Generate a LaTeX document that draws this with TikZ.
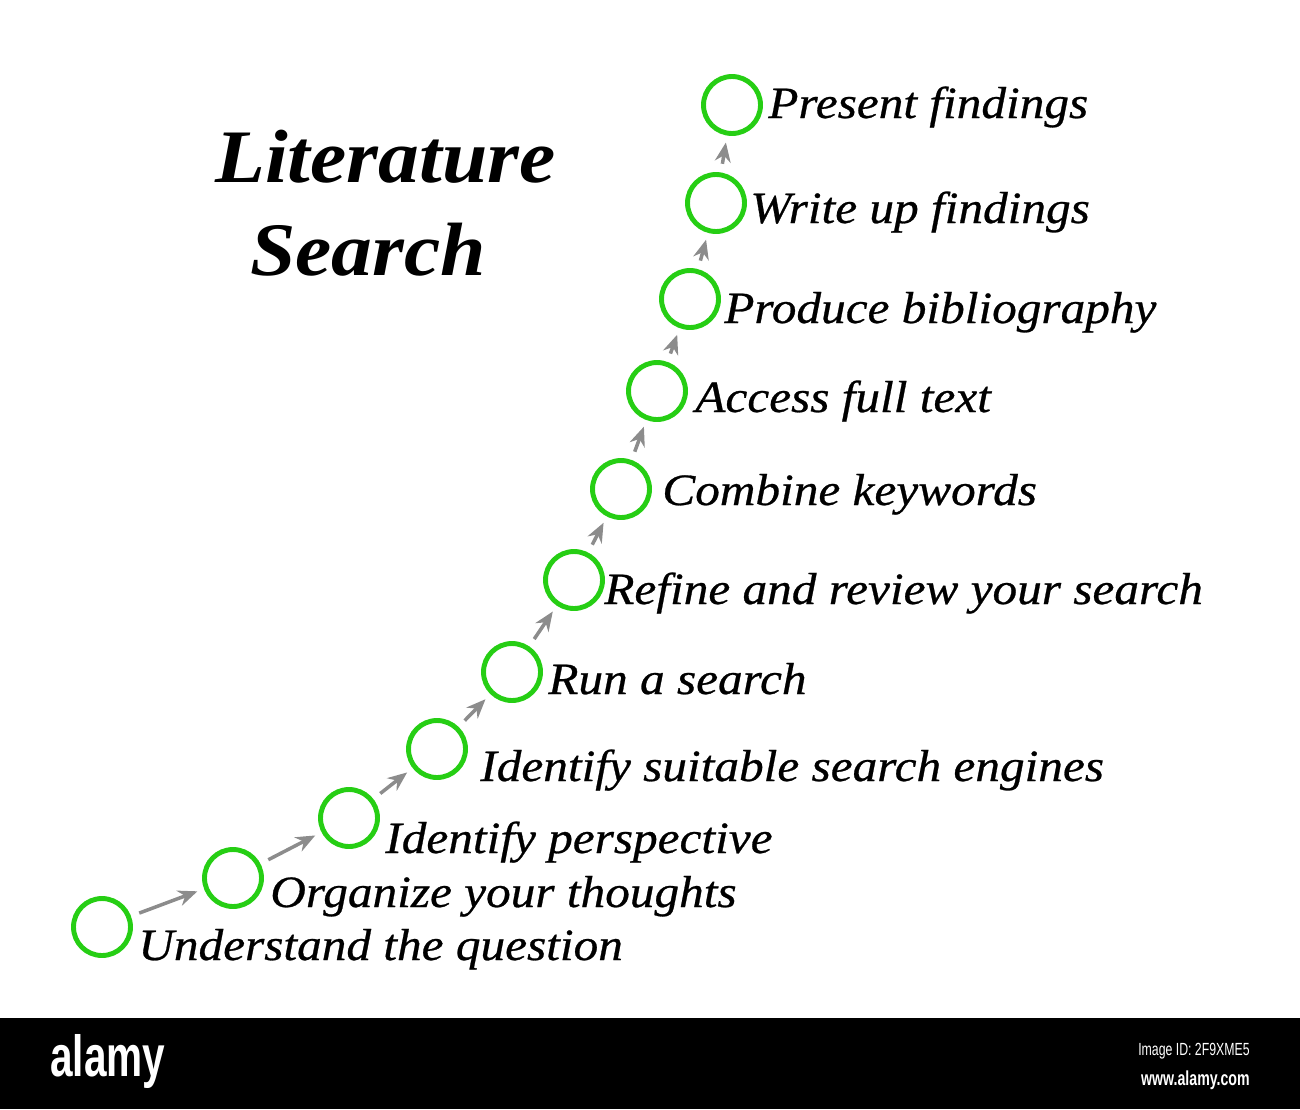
\documentclass[tikz,border=0pt]{standalone}
\usepackage{fontspec}
\setmainfont{Liberation Serif}[FakeStretch=1.08]
\newfontfamily\stepfont{Liberation Serif}[FakeStretch=1.1, FakeBold=0.6]
\newfontfamily\markfont{Liberation Sans}[FakeStretch=0.7]
\usetikzlibrary{arrows.meta}
\definecolor{stepgreen}{RGB}{38,206,20}
\definecolor{stepgray}{RGB}{140,140,140}

\begin{document}
\begin{tikzpicture}[x=0.02cm, y=-0.02cm,
  stepring/.style={circle, draw=stepgreen, line width=2.8pt, minimum size=1.14cm, inner sep=0pt},
  steplabel/.style={anchor=base west, inner sep=0pt, font=\stepfont\fontsize{25.5}{30}\selectfont\itshape},
  steparrow/.style={-{Stealth[length=11pt, width=9pt]}, draw=stepgray, line width=2pt, shorten <=5pt, shorten >=4pt},
  titlefont/.style={anchor=base west, inner sep=0pt, font=\fontsize{43}{48}\selectfont\bfseries\itshape}]
\useasboundingbox (0,0) rectangle (1300,1109);

% title
\node[titlefont] (title1) at (215,182) {Literature};
\node[titlefont] (title2) at (250,275) {Search};

% steps
\node[stepring] (understand) at (102,927) {};
\node[stepring] (organize) at (233,878) {};
\node[stepring] (perspective) at (349,818) {};
\node[stepring] (engines) at (437,749) {};
\node[stepring] (run) at (512,672) {};
\node[stepring] (refine) at (574,580) {};
\node[stepring] (combine) at (621,489) {};
\node[stepring] (access) at (657,391) {};
\node[stepring] (biblio) at (690,299) {};
\node[stepring] (write) at (716,203) {};
\node[stepring] (present) at (732,105) {};

\node[steplabel] (understandtext) at (138,960) {Understand the question};
\node[steplabel] (organizetext) at (270,907) {Organize your thoughts};
\node[steplabel] (perspectivetext) at (385,853) {Identify perspective};
\node[steplabel] (enginestext) at (480,781) {Identify suitable search engines};
\node[steplabel] (runtext) at (548,694) {Run a search};
\node[steplabel] (refinetext) at (604,604) {Refine and review your search};
\node[steplabel] (combinetext) at (662,505) {Combine keywords};
\node[steplabel] (accesstext) at (695,412) {Access full text};
\node[steplabel] (bibliotext) at (724,323) {Produce bibliography};
\node[steplabel] (writetext) at (750,223) {Write up findings};
\node[steplabel] (presenttext) at (768,118) {Present findings};

\draw[steparrow] (understand) -- (organize);
\draw[steparrow] (organize) -- (perspective);
\draw[steparrow] (perspective) -- (engines);
\draw[steparrow] (engines) -- (run);
\draw[steparrow] (run) -- (refine);
\draw[steparrow] (refine) -- (combine);
\draw[steparrow] (combine) -- (access);
\draw[steparrow] (access) -- (biblio);
\draw[steparrow] (biblio) -- (write);
\draw[steparrow] (write) -- (present);

% stock banner
\fill[black] (0,1018) rectangle (1300,1109);
\node[anchor=west, inner sep=0pt, text=white, font=\markfont\bfseries\fontsize{33}{33}\selectfont] (brand) at (50,1061) {alamy};
\node[anchor=east, inner sep=0pt, text=white, font=\markfont\fontsize{10}{12}\selectfont] (imageid) at (1250,1051) {Image ID: 2F9XME5};
\node[anchor=east, inner sep=0pt, text=white, font=\markfont\bfseries\fontsize{11.5}{14}\selectfont] (site) at (1250,1080) {www.alamy.com};
\end{tikzpicture}
\end{document}
